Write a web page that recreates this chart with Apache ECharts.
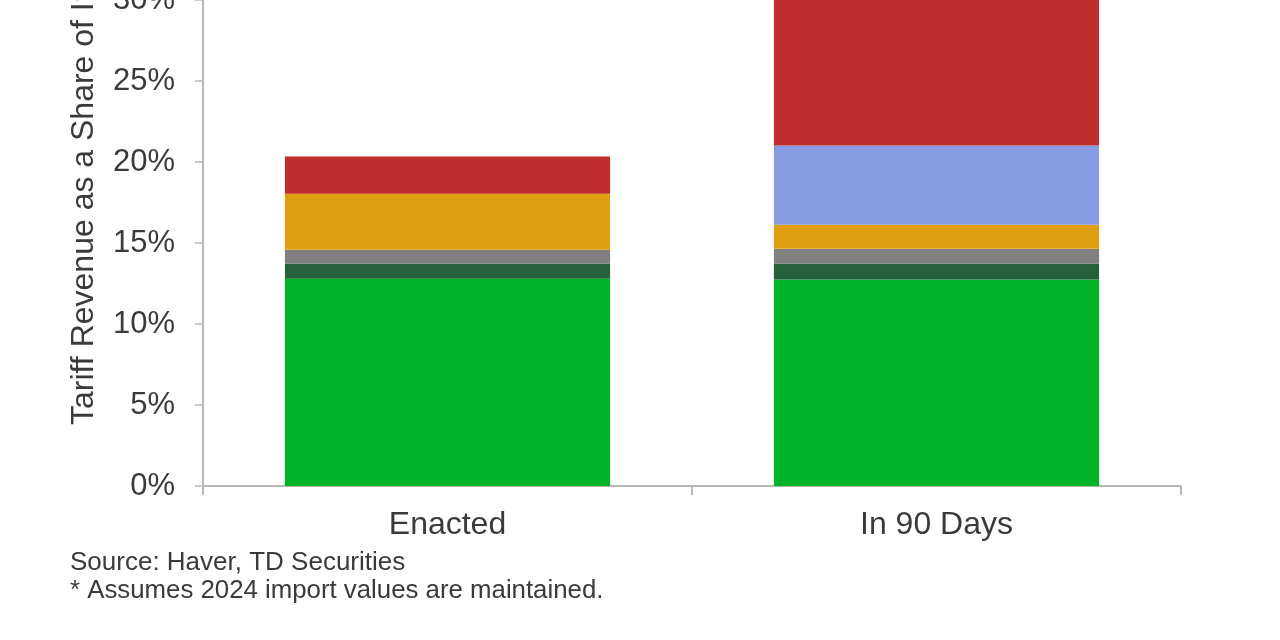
<!DOCTYPE html>
<html>
<head>
    <meta charset="utf-8">
    <script src="https://cdn.jsdelivr.net/npm/echarts@6/dist/echarts.min.js"></script>
    <style>
        html, body { margin: 0; padding: 0; background: #fff; }
    </style>
</head>
<body>
    <div id="main" style="width:1280px; height:640px"></div>
    <script type="text/javascript">
        // categories and stacked segments (% of imports)
        var categories = ['Enacted', 'In 90 Days'];
        var segNames = ['Existing', 'Segment 2', 'Segment 3', 'Segment 4', 'Segment 5', 'Segment 6'];
        var segColors = ['#00b428', '#25613b', '#808080', '#e09f12', '#869be4', '#bf2c2c'];
        var existing = [12.8, 12.75];
        var seg2 = [0.93, 0.98];
        var seg3 = [0.86, 0.92];
        var seg4 = [3.45, 1.48];
        var seg5 = [0, 4.89];
        var seg6 = [2.3, 12.0];
        var yTicks = [0, 5, 10, 15, 20, 25, 30];

        var segData = [existing, seg2, seg3, seg4, seg5, seg6];
        var font = 'Liberation Sans, Arial, sans-serif';

        var myChart = echarts.init(document.getElementById('main'));

        var series = segNames.map(function (name, i) {
            return {
                name: name,
                type: 'bar',
                stack: 'total',
                barWidth: '66.5%',
                itemStyle: { color: segColors[i] },
                data: segData[i]
            };
        });

        var option = {
            animation: false,
            textStyle: { fontFamily: font },
            grid: { left: 203, right: 99, top: 0, bottom: 154, outerBoundsMode: 'none', containLabel: false },
            xAxis: {
                type: 'category',
                data: categories,
                axisLine: { lineStyle: { color: '#b8b8b8', width: 2 } },
                axisTick: { show: true, length: 9, lineStyle: { color: '#b8b8b8', width: 2 } },
                axisLabel: { color: '#3a3a3a', fontSize: 32, margin: 23, fontFamily: font }
            },
            yAxis: {
                type: 'value',
                min: yTicks[0],
                max: yTicks[yTicks.length - 1],
                interval: 5,
                splitLine: { show: false },
                axisLine: { show: true, lineStyle: { color: '#b8b8b8', width: 2 } },
                axisTick: { show: true, length: 8, lineStyle: { color: '#b8b8b8', width: 1.5 } },
                axisLabel: {
                    color: '#3a3a3a', fontSize: 31, margin: 28, fontFamily: font,
                    formatter: function (v) { return v + '%'; }
                }
            },
            graphic: [
                {
                    type: 'text',
                    x: 84, y: 425,
                    rotation: Math.PI / 2,
                    style: {
                        text: 'Tariff Revenue as a Share of Imports*',
                        fill: '#3a3a3a', font: '32px ' + font,
                        textAlign: 'left', textVerticalAlign: 'middle'
                    }
                },
                {
                    type: 'text',
                    left: 70, top: 550,
                    style: { text: 'Source: Haver, TD Securities', fill: '#3a3a3a', font: '26px ' + font }
                },
                {
                    type: 'text',
                    left: 70, top: 578,
                    style: { text: '* Assumes 2024 import values are maintained.', fill: '#3a3a3a', font: '25.8px ' + font }
                }
            ],
            series: series
        };
        myChart.setOption(option);
    </script>
</body>
</html>
